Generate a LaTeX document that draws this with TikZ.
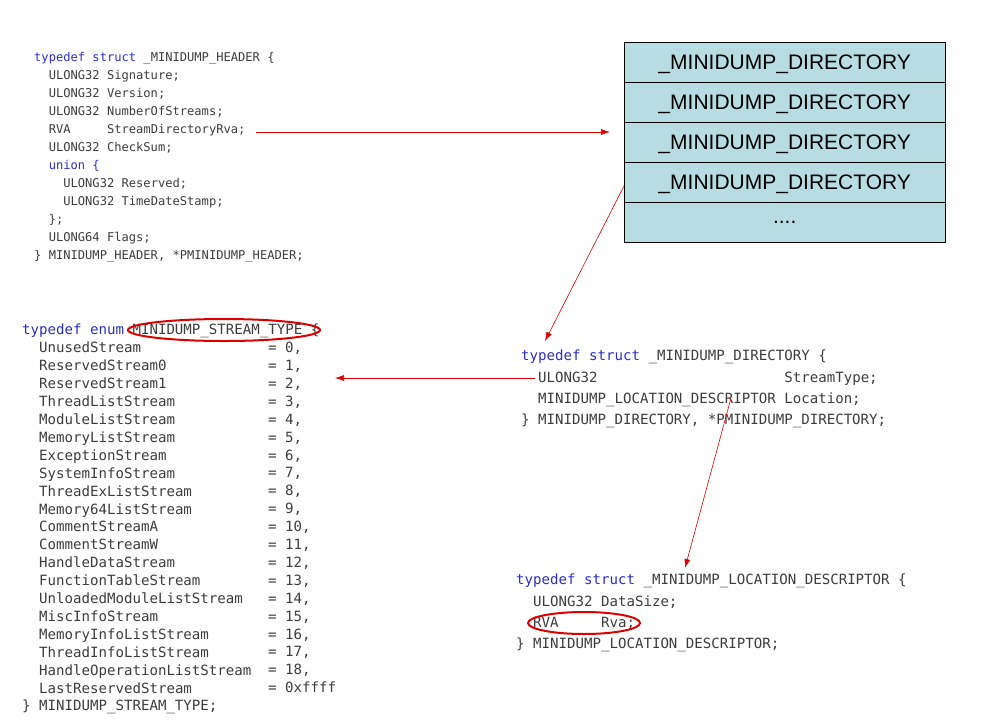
\documentclass[tikz,border=0pt]{standalone}
\usepackage{fontspec}
\setmonofont{DejaVu Sans Mono}
\newfontfamily\boxfont{Liberation Sans}
\definecolor{kw}{RGB}{45,45,200}
\definecolor{code}{RGB}{60,60,60}
\definecolor{cell}{RGB}{183,221,226}
\definecolor{arr}{RGB}{220,0,0}
\begin{document}
\begin{tikzpicture}[x=1pt,y=-1pt,
  hdr/.style={anchor=north west,inner sep=0,align=left,text=code,font=\ttfamily\fontsize{12.1}{18}\selectfont},
  big/.style={anchor=north west,inner sep=0,align=left,text=code,font=\ttfamily\fontsize{14.1}{17.9}\selectfont},
  dir/.style={anchor=north west,inner sep=0,align=left,text=code,font=\ttfamily\fontsize{14.1}{21.2}\selectfont},
  cellbox/.style={draw=black,fill=cell,minimum width=321pt,minimum height=40pt,inner sep=0,text depth=-3pt,font=\boxfont\fontsize{21}{24}\selectfont,anchor=north west},
  link/.style={draw=arr,line width=0.6pt,-{Latex[length=9pt,width=6pt]}},
  ring/.style={draw=arr,line width=2pt,ellipse}]
\usetikzlibrary{arrows.meta,shapes.geometric}
\useasboundingbox (0,0) rectangle (998,726);
% header
\node[hdr] (hdr) at (34,52) {\textcolor{kw}{typedef struct} \_MINIDUMP\_HEADER \{\\
~~ULONG32 Signature;\\
~~ULONG32 Version;\\
~~ULONG32 NumberOfStreams;\\
~~RVA~~~~~StreamDirectoryRva;\\
~~ULONG32 CheckSum;\\
~~\textcolor{kw}{union \{}\\
~~~~ULONG32 Reserved;\\
~~~~ULONG32 TimeDateStamp;\\
~~\};\\
~~ULONG64 Flags;\\
\} MINIDUMP\_HEADER, *PMINIDUMP\_HEADER;};
% directory boxes
\node[cellbox] (d1) at (624,42) {\_MINIDUMP\_DIRECTORY};
\node[cellbox] (d2) at (624,82) {\_MINIDUMP\_DIRECTORY};
\node[cellbox] (d3) at (624,122) {\_MINIDUMP\_DIRECTORY};
\node[cellbox] (d4) at (624,162) {\_MINIDUMP\_DIRECTORY};
\node[cellbox] (d5) at (624,202) {....};
% enum
\node[big] (en) at (22,324) {\textcolor{kw}{typedef enum} MINIDUMP\_STREAM\_TYPE \{};
\node[big] (names) at (39,342) {UnusedStream\\ReservedStream0\\ReservedStream1\\ThreadListStream\\ModuleListStream\\MemoryListStream\\ExceptionStream\\SystemInfoStream\\ThreadExListStream\\Memory64ListStream\\CommentStreamA\\CommentStreamW\\HandleDataStream\\FunctionTableStream\\UnloadedModuleListStream\\MiscInfoStream\\MemoryInfoListStream\\ThreadInfoListStream\\HandleOperationListStream\\LastReservedStream};
\node[big] (vals) at (268,342) {= 0,\\= 1,\\= 2,\\= 3,\\= 4,\\= 5,\\= 6,\\= 7,\\= 8,\\= 9,\\= 10,\\= 11,\\= 12,\\= 13,\\= 14,\\= 15,\\= 16,\\= 17,\\= 18,\\= 0xffff};
\node[big] (enend) at (22,700) {\} MINIDUMP\_STREAM\_TYPE;};
% directory struct
\node[dir] (ds) at (521,350) {\textcolor{kw}{typedef struct} \_MINIDUMP\_DIRECTORY \{\\
~~ULONG32~~~~~~~~~~~~~~~~~~~~~~StreamType;\\
~~MINIDUMP\_LOCATION\_DESCRIPTOR Location;\\
\} MINIDUMP\_DIRECTORY, *PMINIDUMP\_DIRECTORY;};
% location descriptor
\node[dir] (ld) at (516,574) {\textcolor{kw}{typedef struct} \_MINIDUMP\_LOCATION\_DESCRIPTOR \{\\
~~ULONG32 DataSize;\\
~~RVA~~~~~Rva;\\
\} MINIDUMP\_LOCATION\_DESCRIPTOR;};
% ellipses
\node[ring,minimum width=192pt,minimum height=22pt] (e1) at (224,330) {};
\node[ring,minimum width=112pt,minimum height=22pt] (e2) at (584,623) {};
% arrows
\coordinate (a1) at (256,132); \coordinate (b1) at (610,132);
\coordinate (a2) at (624,186); \coordinate (b2) at (545,341);
\coordinate (a3) at (535,378); \coordinate (b3) at (335,378);
\coordinate (a4) at (731,398); \coordinate (b4) at (685,568);
\draw[link] (a1) -- (b1);
\draw[link] (a2) -- (b2);
\draw[link] (a3) -- (b3);
\draw[link] (a4) -- (b4);
\end{tikzpicture}
\end{document}
